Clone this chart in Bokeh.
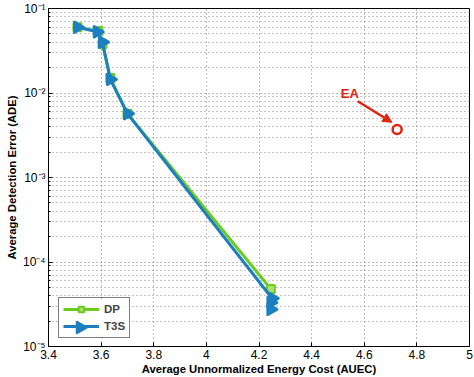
import math
from bokeh.plotting import figure
from bokeh.models import (ColumnDataSource, Legend, LegendItem, FixedTicker, Arrow,
                          NormalHead, Label, Range1d)
from bokeh.embed import file_html
from bokeh.resources import INLINE

# data
dp_x = [3.51, 3.59, 3.605, 3.635, 3.70, 4.245]
dp_y = [0.060, 0.054, 0.038, 0.0150, 0.0057, 4.8e-5]
t3s_x = [3.51, 3.585, 3.605, 3.635, 3.70, 4.25, 4.245, 4.245]
t3s_y = [0.060, 0.053, 0.040, 0.0145, 0.0057, 3.7e-5, 3.3e-5, 2.75e-5]
ea_x = [4.725]
ea_y = [0.0037]
ea_arrow = [4.575, 0.0080, 4.705, 0.0045]
ea_label = [4.545, 0.0098]
x_ticks = [3.4, 3.6, 3.8, 4.0, 4.2, 4.4, 4.6, 4.8, 5.0]
x_tick_labels = ["3.4", "3.6", "3.8", "4", "4.2", "4.4", "4.6", "4.8", "5"]
y_ticks = [1e-5, 1e-4, 1e-3, 1e-2, 1e-1]
y_tick_labels = ["10⁻⁵", "10⁻⁴", "10⁻³", "10⁻²", "10⁻¹"]

GREEN = "#6ccb1f"
BLUE = "#1b7fc0"
RED = "#e0240f"
FONT = "Liberation Sans"
X0, X1, Y0, Y1 = 3.4, 5.0, 1e-5, 1e-1
FRAME_W, FRAME_H = 425, 338


def to_data(px, py):
    """frame-relative pixel position (from bottom-left) -> data coordinates"""
    x = X0 + (X1 - X0) * px / FRAME_W
    y = 10 ** (math.log10(Y0) + (math.log10(Y1) - math.log10(Y0)) * py / FRAME_H)
    return x, y


p = figure(width=474, height=377, y_axis_type="log",
           x_range=Range1d(X0, X1), y_range=Range1d(Y0, Y1),
           output_backend="svg", toolbar_location=None,
           min_border_left=48, min_border_right=5, min_border_top=8, min_border_bottom=31)
p.outline_line_color = "black"
p.outline_line_width = 1
p.background_fill_color = "white"
p.border_fill_color = "white"

# axes
p.xaxis.ticker = FixedTicker(ticks=x_ticks)
p.xaxis.major_label_overrides = {t: l for t, l in zip(x_ticks, x_tick_labels)}
p.yaxis.ticker = FixedTicker(ticks=y_ticks, minor_ticks=[m * 10**e for e in range(-5, -1) for m in range(2, 10)])
p.yaxis.major_label_overrides = {t: l for t, l in zip(y_ticks, y_tick_labels)}
for ax in (p.xaxis, p.yaxis):
    ax.major_tick_in = 4
    ax.major_tick_out = 0
    ax.minor_tick_in = 2
    ax.minor_tick_out = 0
    ax.axis_line_color = "black"
    ax.major_label_text_font = FONT
    ax.major_label_text_font_size = "12px"
    ax.major_label_text_color = "black"
    ax.axis_label_text_font = FONT
    ax.axis_label_text_font_style = "bold"
    ax.axis_label_text_font_size = "11.3px"
    ax.axis_label_text_color = "black"
p.xaxis.major_label_standoff = 3
p.yaxis.major_label_standoff = 3
p.xaxis.axis_label_standoff = 1
p.yaxis.axis_label_standoff = 2
p.xaxis.axis_label = "Average Unnormalized Energy Cost (AUEC)"
p.yaxis.axis_label = "Average Detection Error (ADE)"

# grid
p.xgrid.ticker = FixedTicker(ticks=x_ticks)
p.xgrid.grid_line_color = "#777777"
p.xgrid.grid_line_dash = "1 3"
p.xgrid.grid_line_width = 1
p.ygrid.grid_line_color = "#777777"
p.ygrid.grid_line_dash = "1 3"
p.ygrid.minor_grid_line_color = "#888888"
p.ygrid.minor_grid_line_dash = "1 3"

# legend geometry
LEG_X, LEG_Y, GW, GH, PAD, SP, LEG_W = 10, 8, 36, 14, 4, 3, 73
LEG_H = 2 * PAD + 2 * GH + SP

# white backing for the legend (legend itself transparent so the symbol can show)
bx0, by0 = to_data(LEG_X, LEG_Y)
bx1, by1 = to_data(LEG_X + LEG_W, LEG_Y + LEG_H)
p.quad(left=[bx0], right=[bx1], bottom=[by0], top=[by1], fill_color="white", line_color=None)

# series
src_dp = ColumnDataSource(dict(x=dp_x, y=dp_y))
src_t3 = ColumnDataSource(dict(x=t3s_x, y=t3s_y))
l_dp = p.line("x", "y", source=src_dp, line_color=GREEN, line_width=3)
m_dp = p.scatter("x", "y", source=src_dp, marker="square", size=8,
                 line_color=GREEN, fill_color="#a8e070", line_width=2)
l_t3 = p.line("x", "y", source=src_t3, line_color=BLUE, line_width=3)
m_t3 = p.scatter("x", "y", source=src_t3, marker="triangle", angle=-math.pi / 2,
                 size=12, line_color=BLUE, fill_color=BLUE, line_width=2)

# EA
p.scatter(ea_x, ea_y, marker="circle", size=9, line_color=RED, fill_color="white", line_width=2.5)
p.add_layout(Arrow(end=NormalHead(size=9, fill_color=RED, line_color=RED),
                   x_start=ea_arrow[0], y_start=ea_arrow[1], x_end=ea_arrow[2], y_end=ea_arrow[3],
                   line_color=RED, line_width=2.5))
p.add_layout(Label(x=ea_label[0], y=ea_label[1], text="EA", text_color=RED,
                   text_font=FONT, text_font_style="bold", text_font_size="13px",
                   text_align="center", text_baseline="middle"))

legend = Legend(items=[LegendItem(label="DP", renderers=[l_dp, m_dp]),
                       LegendItem(label="T3S", renderers=[l_t3])],
                location=(LEG_X, LEG_Y))
legend.label_text_font = FONT
legend.label_text_font_style = "bold"
legend.label_text_font_size = "11.5px"
legend.label_height = GH
legend.border_line_color = "black"
legend.border_line_width = 1
legend.background_fill_alpha = 0
legend.margin = 0
legend.padding = PAD
legend.spacing = SP
legend.glyph_width = GW
legend.glyph_height = GH
legend.label_standoff = 5
p.add_layout(legend)

# right-pointing triangle symbol for the T3S legend entry (legend glyphs ignore angle)
sym_x, sym_y = to_data(LEG_X + PAD + GW / 2, LEG_Y + PAD + GH / 2)
sym = p.scatter([sym_x], [sym_y], marker="triangle", angle=-math.pi / 2, size=12,
                line_color=BLUE, fill_color=BLUE, line_width=2)
sym.level = "overlay"

out = file_html(p, INLINE)
open("out.html", "w").write(out)
